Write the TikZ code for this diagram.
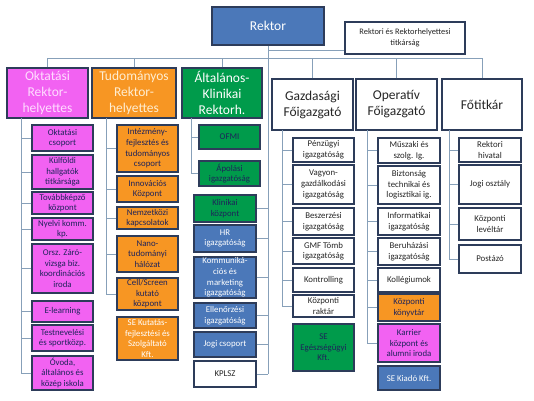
\documentclass[tikz,border=0pt]{standalone}
\usepackage{fontspec}
\setmainfont{Carlito}
\usetikzlibrary{arrows,shapes}
\definecolor{pinkc}{RGB}{242,98,242}
\definecolor{oranc}{RGB}{247,150,35}
\definecolor{greenc}{RGB}{0,155,75}
\definecolor{bluec}{RGB}{75,120,185}
\definecolor{bordc}{RGB}{45,60,90}
\definecolor{linec}{RGB}{135,160,185}
\definecolor{txtc}{RGB}{30,35,90}
\tikzstyle{box}=[draw=bordc,line width=1.1pt,align=center,inner sep=0.5pt,text=txtc,font=\fontsize{8.8}{10.6}\selectfont]
\tikzstyle{pinkbox}=[box,fill=pinkc]
\tikzstyle{oranbox}=[box,fill=oranc]
\tikzstyle{kftbox}=[box,fill=oranc,text=white]
\tikzstyle{greenbox}=[box,fill=greenc]
\tikzstyle{bluebox}=[box,fill=bluec,text=white]
\tikzstyle{whitebox}=[box,fill=white,text=black!85]
\tikzstyle{head}=[draw=bordc,line width=1.3pt,align=center,inner sep=1pt,font=\fontsize{13.5}{16}\selectfont]
\tikzstyle{pinkhead}=[head,fill=pinkc,text={rgb,255:red,255;green,220;blue,255}]
\tikzstyle{oranhead}=[head,fill=oranc,text={rgb,255:red,255;green,238;blue,210}]
\tikzstyle{greenhead}=[head,fill=greenc,text=white]
\tikzstyle{whitehead}=[head,fill=white,text=black!85]
\tikzstyle{edge}=[draw=linec,line width=0.9pt]

\begin{document}
\begin{tikzpicture}[x=1pt,y=-1pt]
    \useasboundingbox (0,0) rectangle (534,400);
    % First we draw the top of the chart
    \node[head,fill=bluec,text=white,minimum width=112pt,minimum height=38pt] (rektor) at (268,26) {Rektor};
    \node[whitebox,minimum width=120pt,minimum height=32pt,font=\fontsize{8.4}{10.5}\selectfont] (titk) at (405,38) {Rektori és Rektorhelyettesi\\titkárság};
    \foreach \name/\st/\x/\y/\w/\h/\txt in {{h1/pinkhead/47.5/93/81/50/Oktatási\\Rektor-\\helyettes},
        {h2/oranhead/134/93/84/50/Tudományos\\Rektor-\\helyettes}, {h3/greenhead/222/93/80/50/Általános-\\Klinikai\\Rektorh.},
        {h4/whitehead/312.5/104.5/81/51/Gazdasági\\Főigazgató}, {h5/whitehead/396.5/104.5/81/51/Operatív\\Főigazgató},
        {h6/whitehead/482/104.5/80/51/Főtitkár}}
        \node[\st,minimum width=\w pt,minimum height=\h pt] (\name) at (\x,\y) {\txt};
    % The units under each head
    \foreach \name/\st/\y/\h/\txt in {{okt1/pinkbox/138/26/Oktatási\\csoport}, {okt2/pinkbox/172/34/Külföldi\\hallgatók\\titkársága},
        {okt3/pinkbox/203/22/Továbbképző\\központ}, {okt4/pinkbox/229/22/Nyelvi komm.\\kp.},
        {okt5/pinkbox/268.5/49/Orsz. Záró-\\vizsga biz.\\koordinációs\\iroda}, {okt6/pinkbox/311.5/21/E-learning},
        {okt7/pinkbox/338/26/Testnevelési\\és sportközp.}, {okt8/pinkbox/373/34/Óvoda,\\általános és\\közép iskola}}
        \node[\st,minimum width=61pt,minimum height=\h pt] (\name) at (62.5,\y) {\txt};
    \foreach \name/\st/\y/\h/\txt in {{tud1/oranbox/148.5/47/Intézmény-\\fejlesztés és\\tudományos\\csoport},
        {tud2/oranbox/189/26/Innovációs\\Központ}, {tud3/oranbox/218/22/Nemzetközi\\kapcsolatok},
        {tud4/oranbox/254/36/Nano-\\tudományi\\hálózat}, {tud5/oranbox/294/32/{Cell/Screen\\kutató\\központ}},
        {tud6/kftbox/338.5/43/SE Kutatás-\\fejlesztési és\\Szolgáltató\\Kft.}}
        \node[\st,minimum width=61pt,minimum height=\h pt] (\name) at (147.5,\y) {\txt};
    \foreach \name/\st/\y/\h/\txt in {{alt1/greenbox/137/24/OFMI}, {alt2/greenbox/173.5/25/Ápolási\\igazgatóság}}
        \node[\st,minimum width=61pt,minimum height=\h pt] (\name) at (229.5,\y) {\txt};
    \foreach \name/\st/\y/\h/\txt in {{rk1/greenbox/208.5/27/Klinikai\\központ}, {rk2/bluebox/238.5/27/HR\\igazgatóság},
        {rk3/bluebox/277.5/41/Kommuniká-\\ciós és\\marketing\\igazgatóság}, {rk4/bluebox/315.5/25/Ellenőrzési\\igazgatóság},
        {rk5/bluebox/344.5/25/Jogi csoport}, {rk6/whitebox/374/26/KPLSZ}}
        \node[\st,minimum width=62pt,minimum height=\h pt] (\name) at (225,\y) {\txt};
    \foreach \name/\st/\y/\h/\txt in {{gaz1/whitebox/150/24/Pénzügyi\\igazgatóság}, {gaz2/whitebox/184.5/39/Vagyon-\\gazdálkodási\\igazgatóság},
        {gaz3/whitebox/221.5/27/Beszerzési\\igazgatóság}, {gaz4/whitebox/251/26/GMF Tömb\\igazgatóság},
        {gaz5/whitebox/280/24/Kontrolling}, {gaz6/whitebox/306/22/Központi\\raktár}, {gaz7/greenbox/347.5/47/SE\\Egészségügyi\\Kft.}}
        \node[\st,minimum width=61pt,minimum height=\h pt] (\name) at (323.5,\y) {\txt};
    \foreach \name/\st/\y/\h/\txt in {{ope1/whitebox/150.5/25/Műszaki és\\szolg. Ig.}, {ope2/whitebox/185/38/Biztonság\\technikai és\\logisztikai ig.},
        {ope3/whitebox/221.5/27/Informatikai\\igazgatóság}, {ope4/whitebox/251.5/27/Beruházási\\igazgatóság},
        {ope5/whitebox/280/24/Kollégiumok}, {ope6/oranbox/307.5/27/Központi\\könyvtár},
        {ope7/pinkbox/343/38/Karrier\\központ és\\alumni iroda}, {ope8/bluebox/378/24/SE Kiadó Kft.}}
        \node[\st,minimum width=62pt,minimum height=\h pt] (\name) at (409,\y) {\txt};
    \foreach \name/\st/\y/\h/\txt in {{fot1/whitebox/150/24/Rektori\\hivatal}, {fot2/whitebox/184.5/39/Jogi osztály},
        {fot3/whitebox/224/32/Központi\\levéltár}, {fot4/whitebox/259/28/Postázó}}
        \node[\st,minimum width=62pt,minimum height=\h pt] (\name) at (490,\y) {\txt};
    % Connect the heads to the rector
    \coordinate (bus) at (0,58);
    \path[edge] (rektor.south) -- (rektor.south |- rk6.east);
    \path[edge] ([yshift=4pt]titk.south west) -- ([yshift=4pt]titk.south west -| rektor.south);
    \path[edge] (h1.north |- bus) -- (h6.north |- bus);
    \foreach \name in {h1,h2,h3,h4,h5,h6}
        \path[edge] (\name.north) -- (\name.north |- bus);
    \foreach \name in {rk1,rk2,rk3,rk4,rk5,rk6}
        \path[edge] (\name.east) -- (\name.east -| rektor.south);
    % Connect the units to their heads
    \coordinate (c1) at (21,118);
    \coordinate (c2) at (106,118);
    \coordinate (c3) at (191,118);
    \coordinate (c4) at (282,130);
    \coordinate (c5) at (367,130);
    \coordinate (c6) at (449,130);
    \foreach \col/\last/\list in {{c1/okt8/okt1,okt2,okt3,okt4,okt5,okt6,okt7,okt8}, {c2/tud5/tud1,tud2,tud3,tud4,tud5},
        {c3/alt2/alt1,alt2}, {c4/gaz6/gaz1,gaz2,gaz3,gaz4,gaz5,gaz6}, {c5/ope7/ope1,ope2,ope3,ope4,ope5,ope6,ope7},
        {c6/fot4/fot1,fot2,fot3,fot4}}
    {
        \path[edge] (\col) |- (\last.west);
        \foreach \name in \list
            \path[edge] (\name.west) -- (\name.west -| \col);
    }
\end{tikzpicture}
\end{document}
